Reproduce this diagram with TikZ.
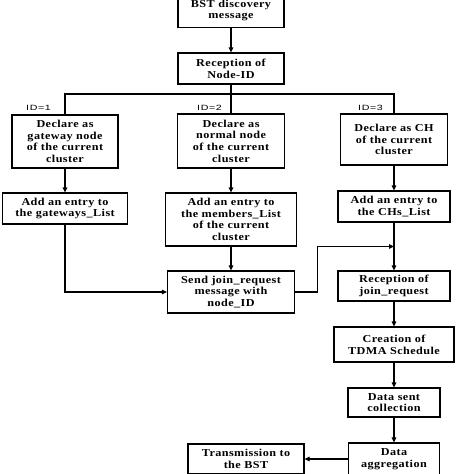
\documentclass[tikz,border=0pt]{standalone}
\usepackage{fontspec}
\setmainfont{Liberation Serif}[FakeStretch=1.15, LetterSpace=4]
\newfontfamily\rotfont{Liberation Sans}[FakeStretch=1.4, LetterSpace=8]
\usetikzlibrary{arrows.meta, positioning, calc}

\begin{document}
\begin{tikzpicture}[x=1pt, y=1pt,
    bloco/.style={draw, line width=1.1pt, align=center, inner sep=1pt, font=\fontsize{10.6}{11.7}\selectfont\bfseries},
    seta/.style={-{Triangle[length=5pt, width=4.5pt]}, line width=1.1pt},
    liga/.style={line width=1.1pt},
    rot/.style={font=\rotfont\fontsize{7.6}{8}\selectfont, anchor=east, inner sep=0pt}
  ]
    \clip (0,0) rectangle (474,-474);
    \node[bloco, minimum width=106pt, minimum height=34pt] (disc) at (231,-10.5) {BST discovery\\message};
    \node[bloco, minimum width=106pt, minimum height=31pt] (recv) at (231,-68.5) {Reception of\\Node-ID};
    \node[bloco, minimum width=106pt, minimum height=53pt] (decl1) at (65,-141.5) {Declare as\\gateway node\\of the current\\cluster};
    \node[bloco, minimum width=107pt, minimum height=54pt] (decl2) at (231,-141) {Declare as\\normal node\\of the current\\cluster};
    \node[bloco, minimum width=107pt, minimum height=51pt] (decl3) at (394,-139.5) {Declare as CH\\of the current\\cluster};
    \node[bloco, minimum width=125pt, minimum height=31pt] (add1) at (65,-208.5) {Add an entry to\\the gateways\_List};
    \node[bloco, minimum width=131pt, minimum height=53pt] (add2) at (231,-219.5) {Add an entry to\\the members\_List\\of the current\\cluster};
    \node[bloco, minimum width=112pt, minimum height=31pt] (add3) at (394,-206.5) {Add an entry to\\the CHs\_List};
    \node[bloco, minimum width=127pt, minimum height=42pt] (send) at (231,-292) {Send join\_request\\message with\\node\_ID};
    \node[bloco, minimum width=112pt, minimum height=30pt] (rjoin) at (394,-286) {Reception of\\join\_request};
    \node[bloco, minimum width=120pt, minimum height=35pt] (tdma) at (394,-344.5) {Creation of\\TDMA Schedule};
    \node[bloco, minimum width=92pt, minimum height=29pt] (dsent) at (394,-402.5) {Data sent\\collection};
    \node[bloco, minimum width=91pt, minimum height=32pt] (aggr) at (394,-459) {Data\\aggregation};
    \node[bloco, minimum width=116pt, minimum height=30pt] (trans) at (246,-459) {Transmission to\\the BST};
    % ramos do Node-ID
    \coordinate (ramo) at (231,-94);
    \node[rot] (id1) at (51,-108) {ID=1};
    \node[rot] (id2) at (222,-108) {ID=2};
    \node[rot] (id3) at (383,-108) {ID=3};
    \draw[seta] (disc) -- (recv);
    \draw[liga] (recv) -- (ramo);
    \draw[liga] (ramo) -| (decl1.north);
    \draw[liga] (ramo) -| (decl3.north);
    \draw[liga] (ramo) -- (decl2.north);
    \draw[seta] (decl1) -- (add1);
    \draw[seta] (decl2) -- (add2);
    \draw[seta] (decl3) -- (add3);
    \draw[seta] (add2) -- (send);
    \draw[seta] (add1) |- (send);
    \coordinate (junta) at ($(add3.south)!0.5!(rjoin.north)$);
    \draw[seta] (send.east) -- ++(22,0) |- (junta);
    \draw[seta] (add3) -- (rjoin);
    \draw[seta] (rjoin) -- (tdma);
    \draw[seta] (tdma) -- (dsent);
    \draw[seta] (dsent) -- (aggr);
    \draw[seta] (aggr) -- (trans);
  \end{tikzpicture}
\end{document}
